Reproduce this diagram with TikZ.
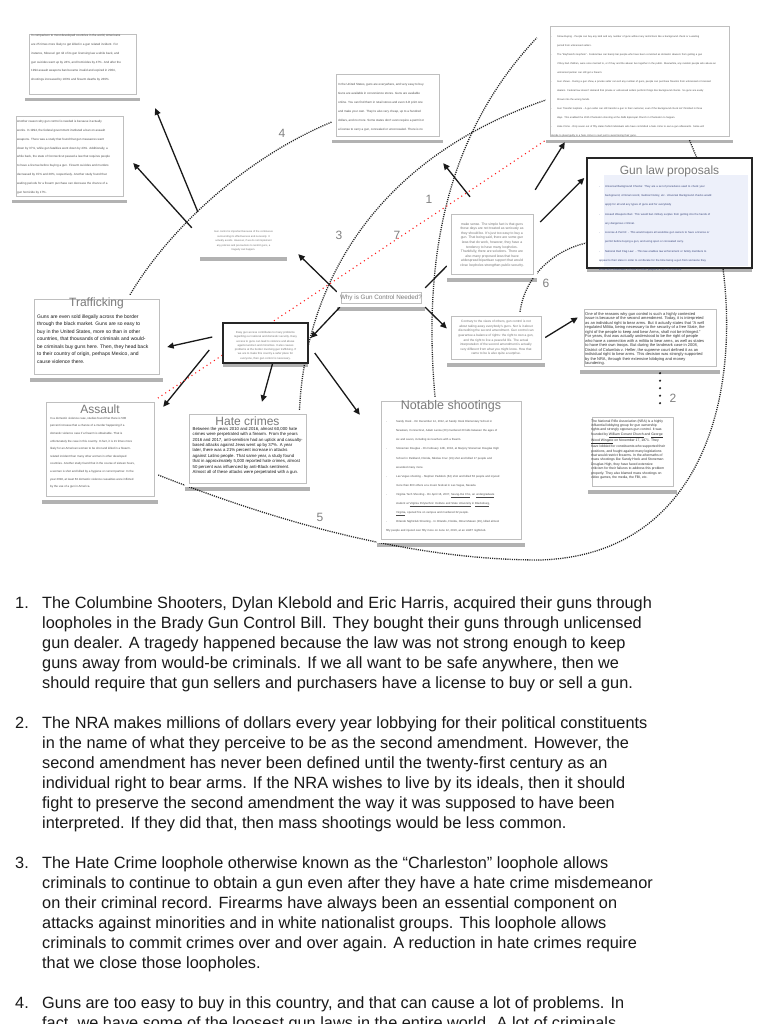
\documentclass[tikz,border=0pt]{standalone}
\usepackage{fontspec}
\setmainfont{Liberation Sans}
\usetikzlibrary{shadows,calc,arrows.meta}
\setlength{\parindent}{0pt}
\newcommand\fsz[2]{\fontsize{#1}{#2}\selectfont}
\newcommand\bitem[2][6pt]{\par\hangindent=#1\hangafter=1\noindent\makebox[#1][l]{-}#2}
\definecolor{ttl}{gray}{0.48}
\definecolor{tny}{gray}{0.3}
\definecolor{lgt}{gray}{0.45}
\definecolor{blu}{rgb}{0.22,0.27,0.48}
\definecolor{hl}{rgb}{0.93,0.94,0.98}
\definecolor{txt}{gray}{0.1}
\pgfdeclarelayer{bg}
\pgfsetlayers{bg,main}
\tikzset{
 shd/.style={drop shadow={shadow xshift=0pt,shadow yshift=-3.5pt,opacity=0.3,fill=black}},
 card/.style={shd, fill=white, inner sep=0pt, path picture={\draw[black!25,line width=0.4pt] ([xshift=4pt,yshift=-4pt]path picture bounding box.north west) rectangle ([xshift=-4pt,yshift=4pt]path picture bounding box.south east);}},
 plaincard/.style={shd, fill=white, inner sep=0pt},
 boldcard/.style={shd, fill=white, draw=black!85, line width=1.5pt, inner sep=0pt},
 ttlnode/.style={text=ttl, font=\fsz{12}{12}, inner sep=0pt},
 lines/.style={align=left, inner sep=0pt, anchor=north west},
 clines/.style={align=center, inner sep=0pt, anchor=north, text=lgt},
 arr/.style={-{Triangle[length=6.5pt,width=6pt]}, line width=1.3pt, black!90},
 plainln/.style={line width=1.3pt, black!90},
 dotc/.style={line width=1.3pt, dash pattern=on 1.1pt off 1.1pt, black!85},
 reddot/.style={red!90, line width=1.5pt, dash pattern=on 0pt off 4.5pt, line cap=round},
 bigdot/.style={black!85, line width=2.4pt, dash pattern=on 0pt off 7.5pt, line cap=round},
 lbl/.style={text=black!50, font=\fsz{12}{12}, inner sep=0pt},
 body/.style={text=txt, font=\fsz{16.3}{20}, align=left, inner sep=0pt, anchor=base west},
}
\begin{document}
\begin{tikzpicture}[x=1pt,y=-1pt]
\useasboundingbox (0,0) rectangle (768,1024);

% ---------- cards ----------
\node[card, minimum width=115pt, minimum height=68pt] (A) at (82.5,64) {};
\node[lines, text=tny, font=\fsz{3}{8.8}] (At) at (31,34.3) {In comparison to most developed countries in the world, Americans\\are 25 times more likely to get killed in a gun related incident. For\\instance, Missouri got rid of its gun licensing law a while back, and\\gun suicides went up by 24\%, and homicides by 47\%. And after the\\1994 assault weapons ban became invalid and expired in 2004,\\shootings increased by 183\% and firearm deaths by 239\%.};

\node[card, minimum width=115pt, minimum height=88pt] (B) at (69.5,156) {};
\node[lines, text=tny, font=\fsz{3}{8.8}] (Bt) at (17,120.3) {Another reason why gun control is needed is because it actually\\works. In 1994, the federal government instituted a ban on assault\\weapons. There was a study that found that gun massacres went\\down by 37\%, while gun fatalities went down by 43\%. Additionally, a\\while back, the state of Connecticut passed a law that requires people\\to have a license before buying a gun. Firearm suicides and murders\\decreased by 15\% and 28\%, respectively. Another study found that\\waiting periods for a firearm purchase can decrease the chance of a\\gun homicide by 17\%.};

\node[card, minimum width=111pt, minimum height=70pt] (C) at (387.5,105) {};
\node[lines, text=tny, font=\fsz{3}{9}] (Ct) at (338,82.9) {In the United States, guns are everywhere, and very easy to buy.\\Guns are available in convenience stores. Guns are available\\online. You can find them in retail stores and even 3-D print one\\and make your own. They're also very cheap, up to a hundred\\dollars, and no more. Some states don't even require a permit or\\a license to carry a gun, concealed or unconcealed. There is no};

\node[plaincard, minimum width=87pt, minimum height=30pt] (D) at (243.5,242) {};
\node[clines, font=\fsz{2.6}{4.4}] (Dt) at (243.5,230.8) {Gun control is important because of the continuous\\surrounding its effectiveness and necessity. It\\actually avoids. However, if we do not implement\\any policies and precautions to restrict guns, a\\tragedy can happen.};

\node[card, minimum width=187pt, minimum height=118pt] (E) at (639.5,81) {};
\node[lines, text=tny, text width=180pt, font=\fsz{2.5}{9}] (Et) at (551,28) {%
\bitem{Straw Buying - People can buy any kind and any number of guns without any restrictions like a background check or a waiting\newline period from unlicensed sellers.}
\bitem{The ``Boyfriend's loophole'' - Federal law can barely bar people who have been convicted as domestic abusers from getting a gun\newline if they had children, were once married to, or if they and the abuser live together in the public. Meanwhile, any random people who abuse an\newline unmarried partner can still get a firearm.}
\bitem{Gun shows - During a gun show, a private seller can sell any number of guns, people can purchase firearms from unlicensed or licensed\newline dealers. Federal law doesn't demand that private or unlicensed sellers perform things like background checks. So guns are easily\newline thrown into the wrong hands.}
\bitem{Gun Transfer loophole - A gun seller can still transfer a gun to their customer, even if the background check isn't finished in three\newline days. This enabled the 2015 Charleston shooting at the AME Episcopal Church in Charleston to happen.}
\bitem{Hate Crime - Only seven out of fifty states forbid individuals who have committed a hate crime to own a gun afterwards. Some will\newline decide to plead guilty to a hate crime in court just to avoid losing their guns.}};

\node[boldcard, minimum width=165pt, minimum height=110pt] (GLP) at (669.5,213) {};
\fill[hl] (604,175) rectangle (748,266);
\node[ttlnode] (GLPt) at (669.5,171) {Gun law proposals};
\node[lines, text=blu, text width=160pt, font=\fsz{2.75}{9.26}] (GLPb) at (599,177.8) {%
\bitem{Universal Background Checks: They are a set of procedures used to check your\newline background, criminal record, medical history, etc. Universal Background checks would\newline apply for all and any types of guns and for everybody}
\bitem{Assault Weapons Ban: This would ban military surplus from getting into the hands of\newline any dangerous criminal.}
\bitem{License \& Permit: - This would require all would-be gun owners to have a license or\newline permit before buying a gun, and using open or concealed carry.}
\bitem{National Red Flag Law: - This law enables law enforcement or family members to\newline appeal to their state in order to confiscate for the time being a gun from someone they\newline know who showcases a threat to other people or even themselves.}};

\node[card, minimum width=90pt, minimum height=68pt] (F) at (492,244) {};
\node[clines, font=\fsz{3.4}{4.6}] (Ft) at (492,222.4) {make sense. The simple fact is that guns\\these days are not treated as seriously as\\they should be. It's just too easy to buy a\\gun. That being said, there are some gun\\laws that do work, however, they have a\\tendency to have many loopholes.\\Thankfully, there are solutions. There are\\also many proposed laws that have\\widespread bipartisan support that would\\close loopholes strengthen public security.};

\node[card, minimum width=88pt, minimum height=19pt, text=ttl, font=\fsz{6.3}{7}] (ctr) at (381,297.5) {Why is Gun Control Needed?};

\node[card, minimum width=98pt, minimum height=51pt] (G) at (496,337.5) {};
\node[clines, font=\fsz{3.2}{4.6}] (Gt) at (496,320.2) {Contrary to the views of others, gun control is not\\about taking away everybody's guns. Nor is it about\\discrediting the second amendment. Gun control can\\guarantee a balance of rights: the right to own a gun,\\and the right to live a peaceful life. The actual\\interpretation of the second amendment is actually\\very different from what you might know. How that\\came to be is also quite a surprise.};

\node[card, minimum width=140pt, minimum height=65pt] (H) at (650,337.5) {};
\node[lines, text=black!80, font=\fsz{4}{4.48}] (Ht) at (585,312.1) {One of the reasons why gun control is such a highly contested\\issue is because of the second amendment. Today, it is interpreted\\as an individual right to bear arms. But it actually states that ``A well\\regulated Militia, being necessary to the security of a free State, the\\right of the people to keep and bear Arms, shall not be infringed.''\\For years, that was actually understood to be the right of people\\who have a connection with a militia to bear arms, as well as states\\to have their own troops. But during the landmark case in 2008,\\District of Columbia v. Heller, the supreme court defined it as an\\individual right to bear arms. This decision was strongly supported\\by the NRA, through their extensive lobbying and money\\laundering.};

\node[card, minimum width=89pt, minimum height=77pt] (I) at (632.5,451.5) {};
\node[lines, text=black!80, font=\fsz{3.4}{4.4}] (It) at (591,419.4) {The National Rifle Association (NRA) is a highly\\influential lobbying group for gun ownership\\rights and strongly opposes gun control. It was\\founded by \underline{William Conant Church} and \underline{George}\\\underline{Wood Wingate} on November 17, 1871. They\\have lobbied for constituents who supported their\\positions, and fought against many legislations\\that would restrict firearms. In the aftermaths of\\mass shootings like Sandy Hook and Stoneman\\Douglas High, they have faced extensive\\criticism for their failures to address this problem\\properly. They also blamed mass shootings on\\video games, the media, the FBI, etc.};

\node[card, minimum width=133pt, minimum height=83pt] (T) at (96.5,336.5) {};
\node[ttlnode] (Tt) at (96.5,303.5) {Trafficking};
\node[lines, text=txt, font=\fsz{5}{7.5}] (Tb) at (37,314.3) {Guns are even sold illegally across the border\\through the black market. Guns are so easy to\\buy in the United States, more so than in other\\countries, that thousands of criminals and would-\\be criminals buy guns here. Then, they head back\\to their country of origin, perhaps Mexico, and\\cause violence there.};

\node[boldcard, minimum width=85pt, minimum height=40pt] (J) at (265.5,343) {};
\node[clines, font=\fsz{2.8}{4.27}] (Jt) at (265.5,331.4) {Easy gun access contributes to many problems\\regarding our national and domestic security. Easy\\access to guns can lead to violence and abuse\\against women and minorities. It also causes\\problems at the border involving gun trafficking. If\\we are to make this country a safer place for\\everyone, then gun control is necessary.};

\node[card, minimum width=116pt, minimum height=102pt] (As) at (100,449) {};
\node[ttlnode] (Ast) at (100,409.5) {Assault};
\node[lines, text=tny, font=\fsz{2.9}{7.6}] (Asb) at (50,417) {In a domestic violence case, studies found that there is 500\\percent increase that a chance of a murder happening if a\\domestic violence case if a firearm is obtainable. That is\\unfortunately the case in this country. In fact, it is 21 times more\\likely for an American woman to be shot and killed in a firearm-\\related incident than many other women in other developed\\countries. Another study found that in the course of sixteen hours,\\a woman is shot and killed by a hygiene or current partner. In the\\year 2018, at least 63 domestic violence casualties were inflicted\\by the use of a gun in America.};

\node[card, minimum width=125pt, minimum height=77pt] (HC) at (247.5,448.5) {};
\node[ttlnode] (HCt) at (247.5,421) {Hate crimes};
\node[lines, text=txt, font=\fsz{4.3}{5.34}] (HCb) at (192.5,427.3) {Between the years 2010 and 2016, almost 60,000 hate\\crimes were perpetrated with a firearm. From the years\\2016 and 2017, anti-semitism had an uptick and casualty-\\based attacks against Jews went up by 37\%. A year\\later, there was a 21\% percent increase in attacks\\against Latino people. That same year, a study found\\that in approximately 5,000 reported hate crimes, almost\\50 percent was influenced by anti-Black sentiment.\\Almost all of these attacks were perpetrated with a gun.};

\node[card, minimum width=148pt, minimum height=146pt] (NS) at (451,470) {};
\node[ttlnode, font=\fsz{12.5}{12.5}] (NSt) at (451,406.5) {Notable shootings};
\node[lines, text=tny, text width=150pt, font=\fsz{2.8}{9.06}] (NSb) at (386,413.5) {%
\bitem[10pt]{Sandy Hook - On December 14, 2012, at Sandy Hook Elementary School in\newline Newtown, Connecticut, Adam Lanza (20) murdered 20 kids between the ages of\newline six and seven, including six teachers with a firearm.}
\bitem[10pt]{Stoneman Douglas - On February 14th, 2018, at Marjory Stoneman Douglas High\newline School in Parkland, Florida, Nikolas Cruz (19) shot and killed 17 people and\newline wounded many more.}
\bitem[10pt]{Las Vegas shooting - Stephen Paddock (64) shot and killed 58 people and injured\newline more than 800 others at a music festival in Las Vegas, Nevada}
\bitem[10pt]{Virginia Tech Shooting - On April 16, 2007, \underline{Seung-Hui Cho}, an \underline{undergraduate}\newline student at \underline{Virginia Polytechnic Institute and State University} in \underline{Blacksburg},\newline \underline{Virginia}, opened fire on campus and murdered 32 people.}
\bitem[10pt]{Orlando Nightclub Shooting - In Orlando, Florida, Omar Mateen (29), killed almost\newline fifty people and injured over fifty more on June 12, 2016, at an LGBT nightclub.}};

% ---------- connectors ----------
\begin{pgfonlayer}{bg}
\fill[white] (0,0) rectangle (768,1024);
\draw[arr] ($(ctr.north west)+(0,4)$) -- ($(D.south east)+(11,-3)$);
\draw[plainln] (ctr.north east) -- ($(F.west)+(0,22)$);
\draw[arr] (ctr.south east) -- ($(G.west)+(0,-9)$);
\draw[arr] ($(ctr.south west)+(3,0)$) -- ($(J.east)+(2,-5)$);
\draw[arr] ($(J.east)+(6,10)$) -- ($(NS.north west)+(-17,18)$);
\draw[arr] ($(J.south)+(7,0)$) -- ($(HC.north)+(14.5,-8)$);
\draw[arr] ($(J.west)+(-10,-6)$) -- ($(T.east)+(4,10.5)$);
\draw[arr] ($(J.west)+(-13,7)$) -- ($(As.north east)+(5,9)$);
\draw[arr] ($(D.north west)+(-2,-15)$) -- ($(A.south east)+(15,10)$);
\draw[arr] ($(D.north west)+(-8,1)$) -- ($(B.east)+(6,7)$);
\draw[arr] ($(F.north)+(-22,-13)$) -- ($(C.south east)+(0,23)$);
\draw[arr] ($(F.north east)+(-2,-20)$) -- ($(E.south west)+(19,2)$);
\draw[arr] ($(F.east)+(3,-22)$) -- ($(GLP.west)+(-2,-35)$);
\draw[arr] (G.east) -- ($(H.west)+(-2,-20)$);
% dotted curves
\draw[dotc] ($(NS.north)+(-16,0)$) .. controls (422,250) and (450,130) .. ($(E.north west)+(-9,16)$);
\draw[dotc] ($(HC.north)+(52,0)$) .. controls (305,290) and (370,160) .. ($(E.west)+(0,19)$);
\draw[dotc] ($(T.north)+(33.5,0)$) .. controls (165,235) and (240,160) .. ($(C.west)+(0,17)$);
\draw[dotc] ($(G.north)+(24,0)$) .. controls (525,275) and (555,250) .. ($(GLP.west)+(0,30)$);
\draw[dotc] ($(As.east)+(0,26)$) .. controls (260,515) and (400,560) .. (540,560) .. controls (700,555) and (740,400) .. ($(GLP.south)+(53.5,0)$);
\draw[dotc] ($(E.south)+(50,0)$) -- ($(GLP.north)+(27,0)$);
\draw[reddot] (As.north east) -- (E.south west);
\draw[bigdot] ($(H.south)+(10,3)$) -- ($(I.north)+(27.5,-3)$);
\end{pgfonlayer}

% ---------- labels ----------
\node[lbl] (n1) at (429,199) {1};
\node[lbl] (n2) at (673,398) {2};
\node[lbl] (n3) at (339,235) {3};
\node[lbl] (n4) at (282,133) {4};
\node[lbl] (n5) at (320,517) {5};
\node[lbl] (n6) at (546,283) {6};
\node[lbl] (n7) at (397,235) {7};

% ---------- body text (base anchor = last line) ----------
\node[body] (k1) at (15,608.5) {1.};
\node[body] (b1) at (42,688.5) {The Columbine Shooters, Dylan Klebold and Eric Harris, acquired their guns through\\loopholes in the Brady Gun Control Bill. They bought their guns through unlicensed\\gun dealer. A tragedy happened because the law was not strong enough to keep\\guns away from would-be criminals. If we all want to be safe anywhere, then we\\should require that gun sellers and purchasers have a license to buy or sell a gun.};
\node[body] (k2) at (15,728.5) {2.};
\node[body] (b2) at (42,828.5) {The NRA makes millions of dollars every year lobbying for their political constituents\\in the name of what they perceive to be as the second amendment. However, the\\second amendment has never been defined until the twenty-first century as an\\individual right to bear arms. If the NRA wishes to live by its ideals, then it should\\fight to preserve the second amendment the way it was supposed to have been\\interpreted. If they did that, then mass shootings would be less common.};
\node[body] (k3) at (15,868.5) {3.};
\node[body] (b3) at (42,968.5) {The Hate Crime loophole otherwise known as the “Charleston” loophole allows\\criminals to continue to obtain a gun even after they have a hate crime misdemeanor\\on their criminal record. Firearms have always been an essential component on\\attacks against minorities and in white nationalist groups. This loophole allows\\criminals to commit crimes over and over again. A reduction in hate crimes require\\that we close those loopholes.};
\node[body] (k4) at (15,1008.5) {4.};
\node[body] (b4) at (42,1028.5) {Guns are too easy to buy in this country, and that can cause a lot of problems. In\\fact, we have some of the loosest gun laws in the entire world. A lot of criminals};
\end{tikzpicture}
\end{document}
